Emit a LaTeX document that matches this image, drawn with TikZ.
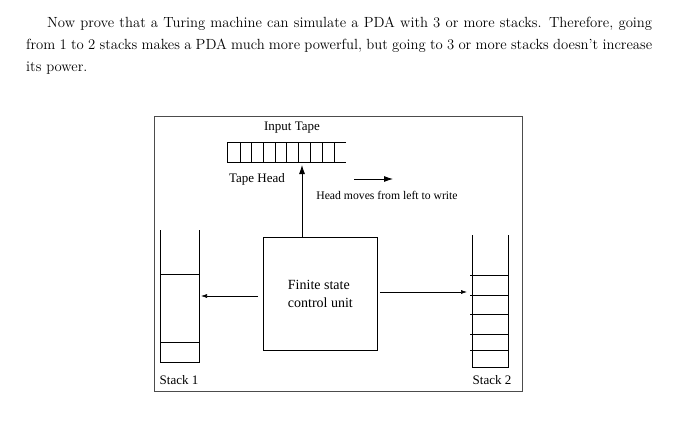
\documentclass[tikz,border=0pt]{standalone}
\usepackage{fontspec}
\newfontfamily\timesfont{Liberation Serif}
\usetikzlibrary{arrows.meta}
\tikzset{
  box/.style={draw, line width=0.8pt},
  lbl/.style={font=\timesfont\fontsize{13}{15}\selectfont, inner sep=0pt},
  small lbl/.style={font=\timesfont\fontsize{11.7}{13}\selectfont, inner sep=0pt},
  arr/.style={-{Latex[length=6pt,width=4pt]}, line width=0.6pt},
  bigarr/.style={-{Latex[length=9pt,width=6pt]}, line width=0.8pt}
}
\begin{document}
\begin{tikzpicture}[x=1pt,y=-1pt]
\useasboundingbox (0,0) rectangle (693,425);
% paragraph
\node[anchor=north west, inner sep=0pt, text width=626pt, align=justify,
      font=\fontsize{14.7}{22}\selectfont] (para) at (26,17)
  {\hspace*{21pt}Now prove that a Turing machine can simulate a PDA with 3 or more stacks. Therefore, going from 1 to 2 stacks makes a PDA much more powerful, but going to 3 or more stacks doesn't increase its power.};
% frame
\draw[line width=1pt, black!70] (154,117) rectangle (522,391);
% tape
\draw[line width=0.8pt] (346,142) -- (227,142) -- (227,162) -- (346,162);
\foreach \x in {240,251.7,263,275,286.7,298,310,322.7,334}
  \draw[line width=0.6pt] (\x,142) -- (\x,162);
\node[lbl] (tapelbl) at (292,128) {Input Tape};
\node[lbl] (headlbl) at (257,179) {Tape Head};
\coordinate (tapeb) at (302,165);
\coordinate (mvs) at (354,179);
\coordinate (mve) at (393,179);
\draw[bigarr] (mvs) -- (mve);
\node[small lbl] (movelbl) at (387,195) {Head moves from left to write};
% control unit
\node[box, minimum width=114pt, minimum height=113pt, inner sep=0pt, anchor=north west,
      font=\timesfont\fontsize{14}{16}\selectfont, align=left] (fsc) at (263,237) {Finite state\\[2pt]control unit};
\draw[bigarr] (fsc.north -| tapeb) -- (tapeb);
% stack 1
\draw[line width=0.8pt] (160,230) -- (160,362) -- (199,362) -- (199,230);
\draw[line width=0.8pt] (160,274) -- (199,274) (160,342) -- (199,342);
\node[lbl] (s1) at (179,380) {Stack 1};
\coordinate (s1in) at (201,296);
\draw[arr] (258,296) -- (s1in);
% stack 2
\draw[line width=0.8pt] (472,235) -- (472,367) -- (508,367) -- (508,235);
\foreach \y in {275,295,314,334,350}
  \draw[line width=0.8pt] (470,\y) -- (508,\y);
\node[lbl] (s2) at (492,380) {Stack 2};
\coordinate (s2in) at (467,292);
\draw[arr] (fsc.east |- s2in) ++(2,0) -- (s2in);
\end{tikzpicture}
\end{document}
